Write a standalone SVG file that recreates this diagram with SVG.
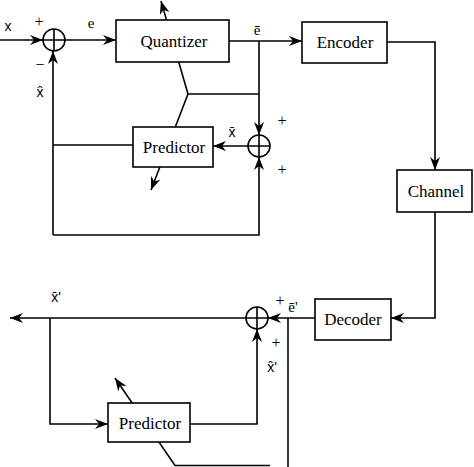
<svg xmlns="http://www.w3.org/2000/svg" width="474" height="467" viewBox="0 0 474 467">
<style>
.ln{fill:none;stroke:#000;stroke-width:1.6;stroke-linejoin:miter}
.box{fill:#fff;stroke:#000;stroke-width:1.6}
.sum{fill:#fff;stroke:#000;stroke-width:1.6}
</style>
<defs>
<marker id="ah" markerUnits="userSpaceOnUse" markerWidth="16" markerHeight="12" refX="13" refY="5" orient="auto">
<path d="M0,0 L13,5 L0,10 L4,5 Z" fill="#000"/>
</marker>
</defs>
<rect width="474" height="467" fill="#fff"/>
<g id="connectors">
<path class="ln" d="M0,40 L43,40" marker-end="url(#ah)"/>
<path class="ln" d="M65,40 L116,40" marker-end="url(#ah)"/>
<path class="ln" d="M229,41 L302,41" marker-end="url(#ah)"/>
<path class="ln" d="M387,42 L435,42 L435,170" marker-end="url(#ah)"/>
<path class="ln" d="M435,212 L435,318 L391,318" marker-end="url(#ah)"/>
<path class="ln" d="M315,318 L268,318" marker-end="url(#ah)"/>
<path class="ln" d="M246,318 L10,318" marker-end="url(#ah)"/>
<path class="ln" d="M50,318 L50,424 L108,424" marker-end="url(#ah)"/>
<path class="ln" d="M190,424 L257,424 L257,329" marker-end="url(#ah)"/>
<path class="ln" d="M288,318 L288,467"/>
<path class="ln" d="M270,465.5 L175,465.5 L115,378" marker-end="url(#ah)"/>
<path class="ln" d="M259,41 L259,135" marker-end="url(#ah)"/>
<path class="ln" d="M248,146 L213,146" marker-end="url(#ah)"/>
<path class="ln" d="M133,145 L53,145"/>
<path class="ln" d="M53,235 L53,51" marker-end="url(#ah)"/>
<path class="ln" d="M53,235 L259,235 L259,157" marker-end="url(#ah)"/>
<path class="ln" d="M259,94 L188,94 L161,1" marker-end="url(#ah)"/>
<path class="ln" d="M188,94 L151,190" marker-end="url(#ah)"/>
</g>
<g font-family="'Liberation Serif', 'Times New Roman', serif" font-size="17" text-anchor="middle" fill="#000">
<g id="quantizer">
<rect class="box" x="116" y="20" width="113" height="42"/>
<text x="174" y="46.5">Quantizer</text>
</g>
<g id="encoder">
<rect class="box" x="302" y="22" width="85" height="41"/>
<text x="345" y="48">Encoder</text>
</g>
<g id="channel">
<rect class="box" x="397" y="170" width="75" height="42"/>
<text x="436" y="196.5">Channel</text>
</g>
<g id="decoder">
<rect class="box" x="315" y="299" width="76" height="41"/>
<text x="353" y="325">Decoder</text>
</g>
<g id="predictor1">
<rect class="box" x="133" y="127" width="80" height="40"/>
<text x="174" y="152.5">Predictor</text>
</g>
<g id="predictor2">
<rect class="box" x="108" y="403" width="82" height="39"/>
<text x="150" y="428.5">Predictor</text>
</g>
</g>
<g id="sum1">
<circle class="sum" cx="54" cy="40" r="11"/>
<path class="ln" d="M43,40 L65,40 M54,29 L54,51"/>
</g>
<g id="sum2">
<circle class="sum" cx="259" cy="146" r="11"/>
<path class="ln" d="M248,146 L270,146 M259,135 L259,157"/>
</g>
<g id="sum3">
<circle class="sum" cx="257" cy="318" r="11"/>
<path class="ln" d="M246,318 L268,318 M257,307 L257,329"/>
</g>
<g id="labels" font-family="'Liberation Serif', 'Times New Roman', serif" font-size="15" fill="#000" text-anchor="middle">
<text x="8" y="31" font-family="'Liberation Sans', Arial, sans-serif" font-size="14">x</text>
<text x="39" y="27" font-size="16">+</text>
<text x="40" y="70" font-size="16">−</text>
<text x="40" y="97" font-family="'Liberation Sans', Arial, sans-serif" font-size="14">x̂</text>
<text x="91" y="28">e</text>
<text x="257" y="35">ē</text>
<text x="232" y="137" font-family="'Liberation Sans', Arial, sans-serif" font-size="14">x̄</text>
<text x="282" y="126" font-size="16">+</text>
<text x="282" y="175" font-size="16">+</text>
<text x="56" y="302" font-family="'Liberation Sans', Arial, sans-serif" font-size="14">x̄'</text>
<text x="280" y="306" font-size="16">+</text>
<text x="293" y="312">ē'</text>
<text x="276" y="348" font-size="16">+</text>
<text x="272" y="372" font-family="'Liberation Sans', Arial, sans-serif" font-size="14">x̂'</text>
</g>
</svg>
